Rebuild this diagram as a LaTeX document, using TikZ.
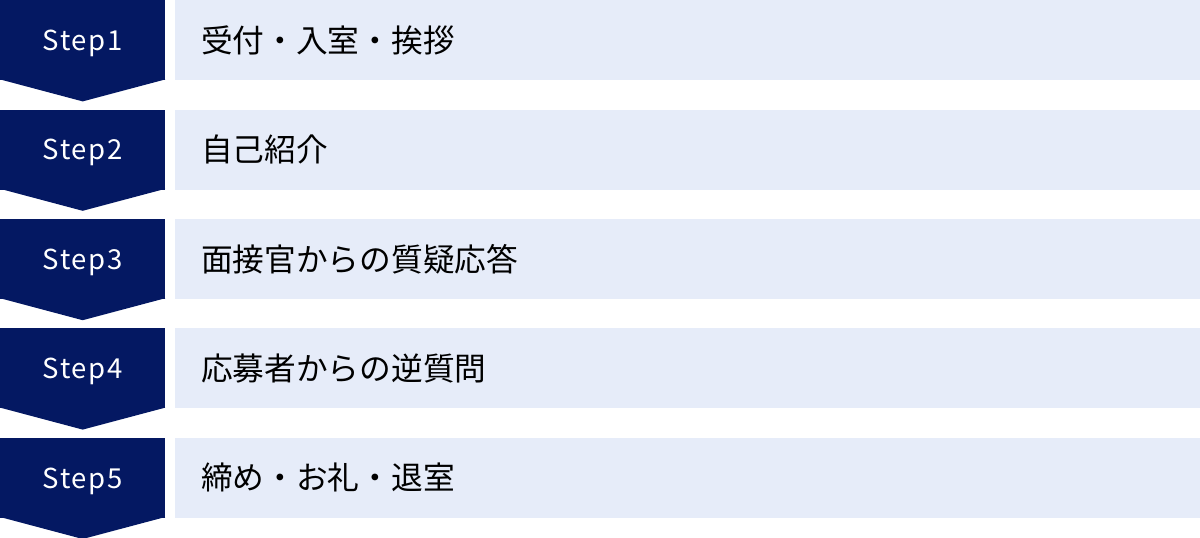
\documentclass[tikz,border=0pt]{standalone}
\usepackage{fontspec}
\usepackage{tikz}
\usetikzlibrary{positioning}
\newfontfamily\cjk{Noto Sans CJK JP}
\newfontfamily\stepfont[LetterSpace=6]{Noto Sans CJK JP}
\definecolor{navy}{RGB}{4,24,98}
\definecolor{rowbg}{RGB}{230,236,249}
\tikzset{stepbox/.style={fill=navy, text=white, minimum width=165pt, minimum height=80pt, inner sep=0pt, text depth=0pt, font=\stepfont\fontsize{27.5}{32}\selectfont},
         rowbox/.style={fill=rowbg, text=black, minimum height=80pt, text width=973pt, inner xsep=26.5pt, inner ysep=0pt, align=left, font=\cjk\fontsize{31.7}{36}\selectfont}}

\begin{document}
\begin{tikzpicture}
                   \useasboundingbox (0,0) rectangle (1200pt,-538pt);
                   \node[stepbox, anchor=north west] (s_1) at (0,0) {Step1};
                   \node[stepbox] (s_2) [below=29pt of s_1] {Step2};
                   \node[stepbox] (s_3) [below=29pt of s_2] {Step3};
                   \node[stepbox] (s_4) [below=29pt of s_3] {Step4};
                   \node[stepbox] (s_5) [below=29pt of s_4] {Step5};
                   \node[rowbox] (r_1) [right=9pt of s_1] {受付・入室・挨拶};
                   \node[rowbox] (r_2) [right=9pt of s_2] {自己紹介};
                   \node[rowbox] (r_3) [right=9pt of s_3] {面接官からの質疑応答};
                   \node[rowbox] (r_4) [right=9pt of s_4] {応募者からの逆質問};
                   \node[rowbox] (r_5) [right=9pt of s_5] {締め・お礼・退室};
                    \fill[navy]
                    ([yshift=1pt]s_1.south west) -- ([yshift=1pt]s_1.south east) -- ([yshift=-21pt]s_1.south) -- cycle
                    ([yshift=1pt]s_2.south west) -- ([yshift=1pt]s_2.south east) -- ([yshift=-21pt]s_2.south) -- cycle
                    ([yshift=1pt]s_3.south west) -- ([yshift=1pt]s_3.south east) -- ([yshift=-21pt]s_3.south) -- cycle
                    ([yshift=1pt]s_4.south west) -- ([yshift=1pt]s_4.south east) -- ([yshift=-21pt]s_4.south) -- cycle
                    ([yshift=1pt]s_5.south west) -- ([yshift=1pt]s_5.south east) -- ([yshift=-21pt]s_5.south) -- cycle
                    ;
                \end{tikzpicture}
\end{document}
